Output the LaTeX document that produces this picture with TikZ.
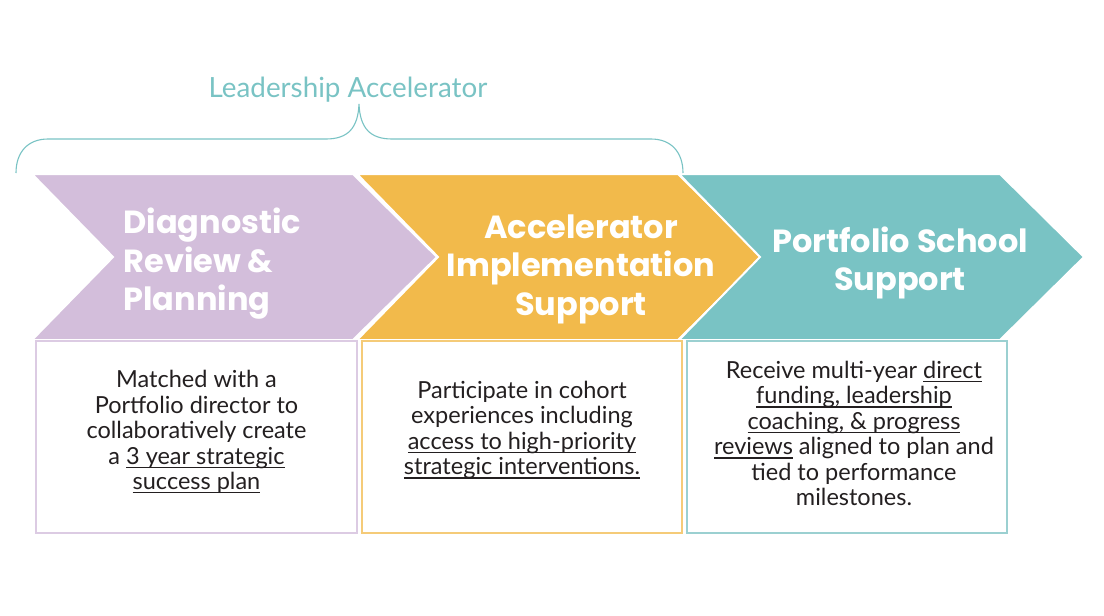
\documentclass[tikz,border=0pt]{standalone}
\usepackage{fontspec}
\setmainfont{Lato}
\newfontfamily\headfont{Poppins}
\newsavebox{\ulbox}
\newcommand{\undl}[1]{\sbox{\ulbox}{#1}\rlap{\rule[-3.8pt]{\wd\ulbox}{1.4pt}}\usebox{\ulbox}}
\definecolor{purp}{HTML}{D3BEDB}
\definecolor{purpline}{HTML}{DCCBE3}
\definecolor{oran}{HTML}{F2BA4B}
\definecolor{oranline}{HTML}{F5CB78}
\definecolor{teal}{HTML}{79C3C4}
\definecolor{tealline}{HTML}{9BD0D1}
\definecolor{ink}{HTML}{231F20}
\tikzset{
  chev/.style={draw=white, line width=2pt, line join=miter},
  headtext/.style={text=white, font=\headfont\bfseries\fontsize{32}{38.5}\selectfont},
  infobox/.style={line width=1.3pt},
  bodytext/.style={text=ink, align=center, font=\fontsize{23.5}{25.5}\selectfont},
}
\begin{document}
\begin{tikzpicture}[x=1pt,y=-1pt]
\useasboundingbox (0,0) rectangle (1104,616);
% chevrons
\foreach \L/\c in {32/purp,357/oran,679/teal}{
  \path[chev, fill=\c] (\L,174) -- ++(321,0) -- ++(84,83) -- ++(-84,83) -- ++(-321,0) -- ++(81,-83) -- cycle;
}
% headings
\node[headtext, anchor=west, align=left] (h1) at (120,264) {Diagnostic\\Review \&\\Planning};
\node[headtext, align=center] (h2) at (581,269) {Accelerator\\Implementation\\Support};
\node[headtext, align=center] (h3) at (900,263) {Portfolio School\\Support};
% boxes
\draw[infobox, draw=purpline] (36,341) rectangle (357,533);
\draw[infobox, draw=oranline] (362,341) rectangle (682,533);
\draw[infobox, draw=tealline] (687,341) rectangle (1007,533);
\node[bodytext] (t1) at (196.5,432) {Matched with a\\Portfolio director to\\collaboratively create\\a \undl{3 year strategic}\\\undl{success plan}};
\node[bodytext] (t2) at (522,430) {Participate in cohort\\experiences including\\\undl{access to high-priority}\\\undl{strategic interventions.}};
\node[bodytext] (t3) at (854,433.5) {Receive multi-year \undl{direct}\\\undl{funding, leadership}\\\undl{coaching, \& progress}\\\undl{reviews} aligned to plan and\\tied to performance\\milestones.};
% brace
\node[text=teal, font=\fontsize{27.8}{30}\selectfont] (lead) at (348,90) {Leadership Accelerator};
\coordinate (bl) at (16,173);
\coordinate (br) at (683,173);
\coordinate (bt) at (359,104);
\draw[teal, line width=1.1pt] (bl) .. controls (16,152) and (28,139) .. (48,139) -- (326,139)
  .. controls (348,139) and (358,128) .. (bt)
  .. controls (360,128) and (370,139) .. (392,139) -- (651,139)
  .. controls (671,139) and (683,152) .. (br);
\end{tikzpicture}
\end{document}
